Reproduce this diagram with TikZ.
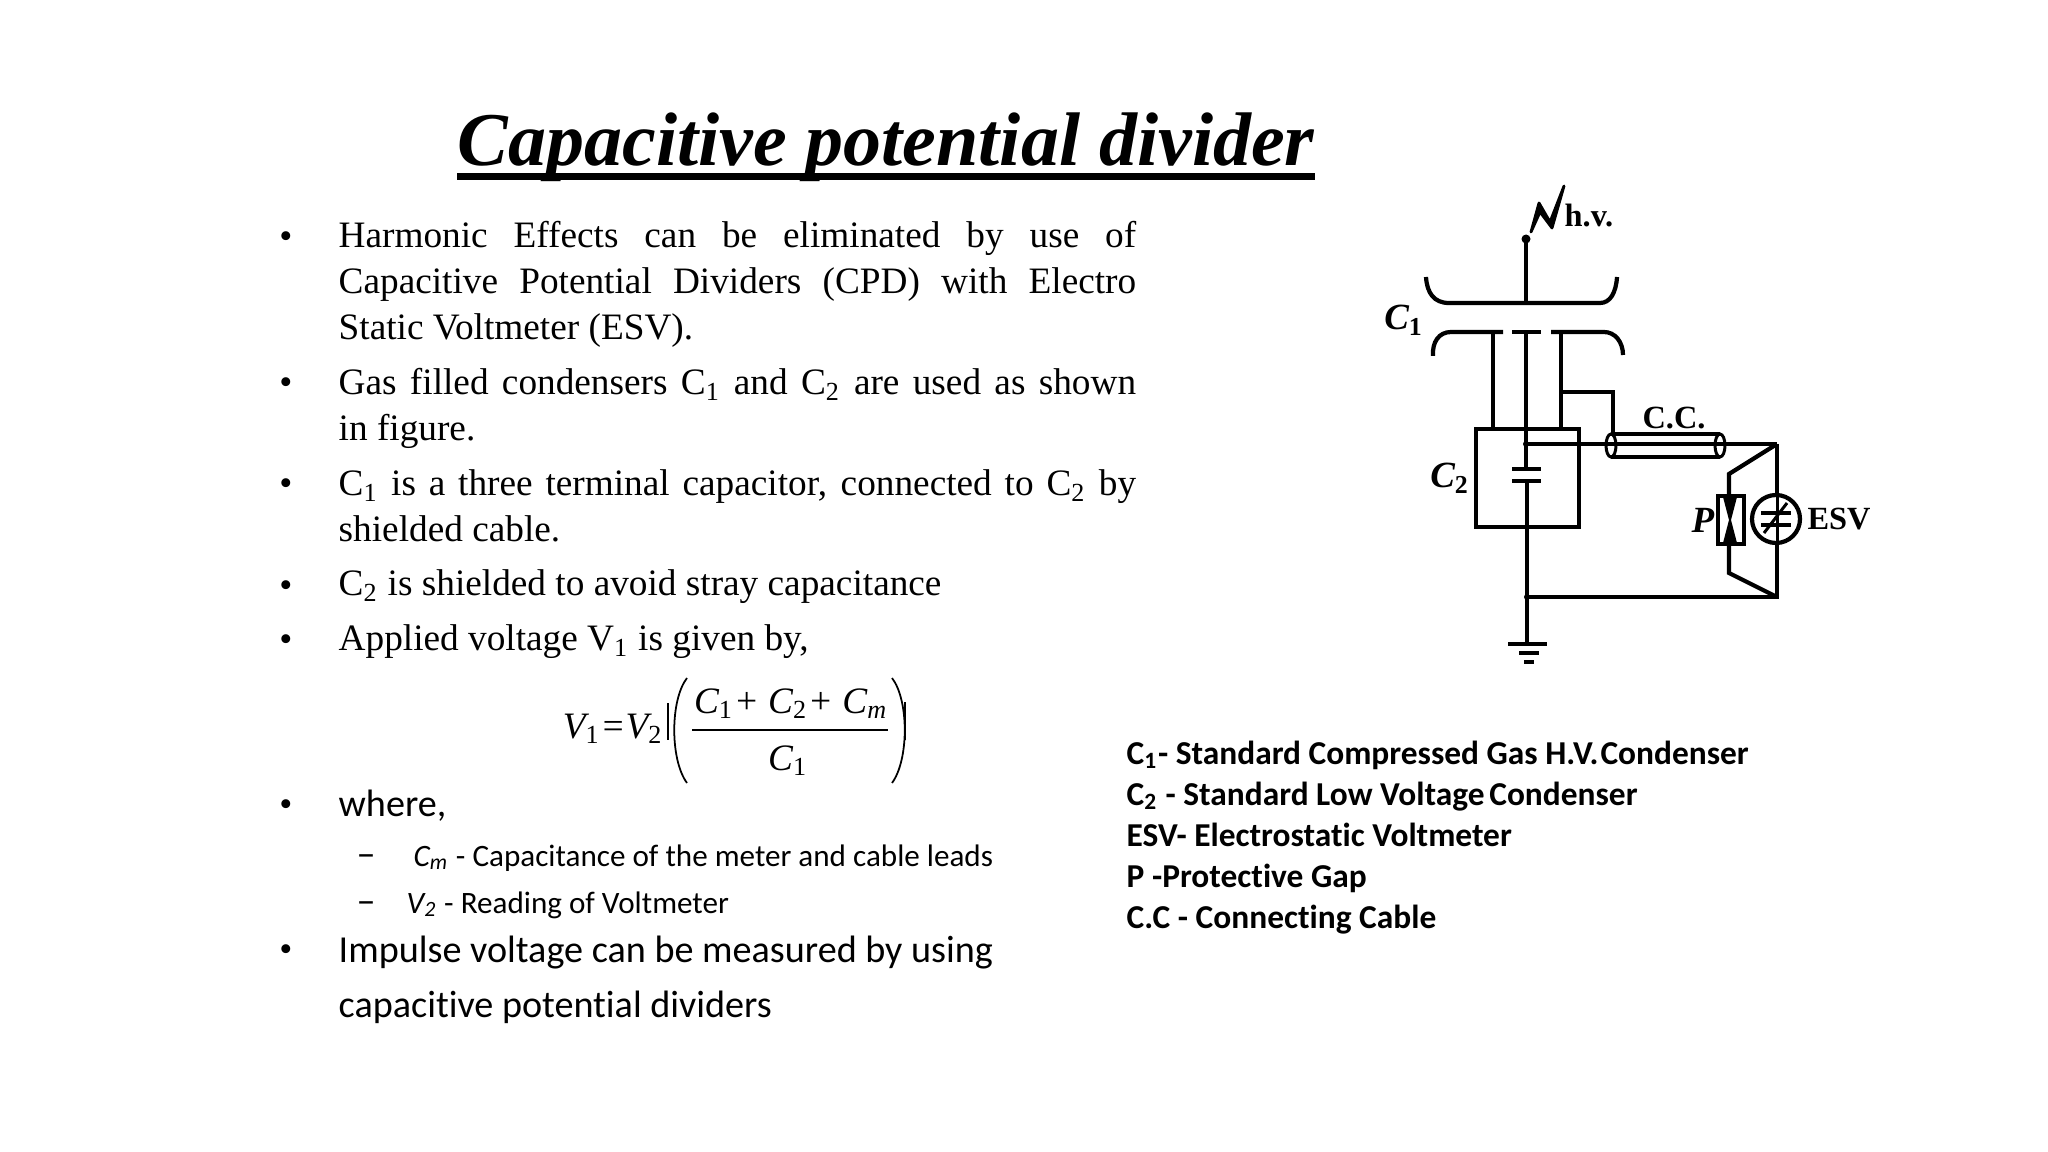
\documentclass[tikz,border=0pt]{standalone}
\usepackage{amsmath}
\usepackage{fontspec}
\setmainfont{Liberation Serif}
\newfontfamily\calfont[Ligatures=NoCommon]{Carlito}
\newcommand{\lowidx}[1]{$_{\text{#1}}$}
\begin{document}
\begin{tikzpicture}[x=0.01cm,y=0.01cm]
	\tikzstyle{every node}+=[inner sep=0pt]
	\tikzstyle{titletext}=[anchor=base west,font=\fontsize{21.6}{26}\selectfont\bfseries\itshape]
	\tikzstyle{bodytext}=[anchor=north west,text width=7.97cm,align=justify,font=\fontsize{10.6}{13}\selectfont]
	\tikzstyle{dotmark}=[anchor=base,font=\fontsize{10.6}{13}\selectfont]
	\tikzstyle{lowtext}=[anchor=base west,font=\fontsize{10.85}{13}\selectfont\calfont]
	\tikzstyle{subtext}=[anchor=base west,font=\fontsize{8.85}{11}\selectfont\calfont]
	\tikzstyle{legend}=[anchor=base west,font=\fontsize{9.5}{12}\selectfont\calfont\bfseries]
	\tikzstyle{eqtext}=[anchor=base,font=\fontsize{10.6}{12}\selectfont\itshape]
	\tikzstyle{partlabel}=[anchor=base,font=\fontsize{9.2}{11}\selectfont\bfseries]
	\tikzstyle{cclabelstyle}=[partlabel,font=\fontsize{10.5}{12}\selectfont\bfseries\itshape]
	\tikzstyle{wire}=[black,line width=1.2pt]
	\tikzstyle{thinwire}=[black,line width=0.85pt]
	\tikzstyle{eqline}=[black,line width=0.5pt]
	\useasboundingbox (0,0) rectangle (2048,-1152);
	\fill [white] (0,0) rectangle (2048,-1152);
	\node [titletext] (heading) at (457,-166) {Capacitive potential divider};
	\draw [black,line width=1.9pt] ([yshift=-3pt]heading.base west) -- ([yshift=-3pt]heading.base east);
	\node [dotmark] (dota) at (286,-249) {•};
	\node [bodytext] (harmonic) at (338,-221) {Harmonic Effects can be eliminated by use of\linebreak Capacitive Potential Dividers (CPD) with Electro\linebreak Static Voltmeter (ESV).};
	\node [dotmark] (dotb) at (286,-395) {•};
	\node [bodytext] (gas) at (338,-368) {Gas filled condensers C\lowidx{1} and C\lowidx{2} are used as shown\linebreak in figure.};
	\node [dotmark] (dotc) at (286,-496) {•};
	\node [bodytext] (three) at (338,-469) {C\lowidx{1} is a three terminal capacitor, connected to C\lowidx{2} by\linebreak shielded cable.};
	\node [dotmark] (dotd) at (286,-597) {•};
	\node [bodytext] (shield) at (338,-569) {C\lowidx{2} is shielded to avoid stray capacitance};
	\node [dotmark] (dote) at (286,-651) {•};
	\node [bodytext] (applied) at (338,-624) {Applied voltage V\lowidx{1} is given by,};
	\node [eqtext] (eqleft) at (613,-738) {V\lowidx{\textup{1}}=V\lowidx{\textup{2}}};
	\node [eqtext] (eqnum) at (791,-713) {C\lowidx{\textup{1}}+ C\lowidx{\textup{2}}+ C\lowidx{m}};
	\node [eqtext] (eqden) at (788,-770) {C\lowidx{\textup{1}}};
	\draw [eqline] (692,-730) -- (888,-730);
	\draw [eqline] (687,-678) .. controls (670,-700) and (670,-760) .. (687,-783);
	\draw [eqline] (892,-678) .. controls (909,-700) and (909,-760) .. (892,-783);
	\draw [eqline] (668,-703) -- (668,-740);
	\draw [eqline] (905,-702) -- (905,-740);
	\node [dotmark] (dotf) at (286,-816) {•};
	\node [lowtext] (where) at (338,-816) {where,};
	\node [lowtext] (dashm) at (356,-866) {–};
	\node [subtext] (meter) at (413,-866) {\textit{C\lowidx{m}} - Capacitance of the meter and cable leads};
	\node [lowtext] (dashv) at (356,-913) {–};
	\node [subtext] (reading) at (406,-913) {\textit{V\lowidx{2}} - Reading of Voltmeter};
	\node [dotmark] (dotg) at (286,-961) {•};
	\node [lowtext] (impulse) at (338,-962) {Impulse voltage can be measured by using};
	\node [lowtext] (impulseb) at (338,-1017) {capacitive potential dividers};
	\node [legend] (lega) at (1126,-764) {C\lowidx{1}- Standard Compressed Gas H.V. \kern-1.6pt Condenser};
	\node [legend] (legb) at (1126,-805) {C\lowidx{2} - Standard Low Voltage \kern-0.8pt Condenser};
	\node [legend] (legc) at (1126,-846) {ESV- Electrostatic Voltmeter};
	\node [legend] (legd) at (1126,-887) {P -Protective Gap};
	\node [legend] (lege) at (1126,-928) {C.C - Connecting Cable};
	\coordinate (hvtop) at (1526,-239);
	\coordinate (plateup) at (1526,-303);
	\coordinate (platelow) at (1526,-332);
	\coordinate (platel) at (1493,-332);
	\coordinate (plater) at (1561,-332);
	\coordinate (boxl) at (1493,-429);
	\coordinate (boxr) at (1561,-429);
	\coordinate (tap) at (1526,-444);
	\coordinate (capup) at (1526,-469);
	\coordinate (capdown) at (1527,-481);
	\coordinate (gndjoin) at (1527,-597);
	\coordinate (gndbar) at (1527,-644);
	\coordinate (corner) at (1777,-597);
	\coordinate (cornerup) at (1777,-444);
	\coordinate (branch) at (1561,-392);
	\coordinate (branchr) at (1613,-392);
	\coordinate (cablein) at (1613,-434);
	\coordinate (gapup) at (1729,-474);
	\coordinate (gapdown) at (1729,-573);
	\fill [black] (hvtop) circle (4.5);
	\fill [black] (tap) circle (3);
	\fill [black] (gndjoin) circle (3);
	\draw [wire] (hvtop) -- (plateup);
	\draw [wire] (1426,-277) .. controls (1427,-293) and (1434,-303) .. (1449,-303) -- (1600,-303) .. controls (1610,-303) and (1616,-293) .. (1617,-277);
	\draw [wire] (1433,-356) .. controls (1432,-342) and (1439,-332) .. (1451,-332) -- (1503,-332);
	\draw [wire] (1512,-332) -- (1541,-332);
	\draw [wire] (1551,-332) -- (1604,-332) .. controls (1615,-332) and (1623,-342) .. (1623,-355);
	\draw [wire] (platel) -- (boxl);
	\draw [wire] (platelow) -- (tap);
	\draw [wire] (plater) -- (boxr);
	\draw [wire] (branch) -- (branchr) -- (cablein);
	\draw [wire] (1476,-429) rectangle (1579,-527);
	\draw [wire] (tap) -- (1608,-444);
	\draw [wire] (1725,-444) -- (cornerup);
	\draw [wire] (1611,-434) -- (1720,-434) (1611,-457) -- (1720,-457);
	\draw [thinwire] (1611,-445.5) ellipse (5 and 11.5);
	\draw [thinwire] (1720,-445.5) ellipse (5 and 11.5);
	\draw [wire] (1608,-444) -- (1725,-444);
	\draw [wire] (tap) -- (capup);
	\draw [wire] (1512,-469) -- (1541,-469);
	\draw [wire] (1512,-481) -- (1541,-481);
	\draw [wire] (capdown) -- (gndjoin) -- (gndbar);
	\draw [wire] (1508,-644) -- (1547,-644);
	\draw [wire] (1519,-653) -- (1539,-653);
	\draw [wire] (1524,-662) -- (1534,-662);
	\draw [wire] (gndjoin) -- (corner) -- (1777,-542);
	\draw [wire] (cornerup) -- (1777,-496);
	\draw [wire] (1776,-519) circle (24);
	\draw [thinwire] (1777,-496) -- (1777,-542);
	\draw [wire] (1761,-513) -- (1791,-513);
	\draw [wire] (1761,-525) -- (1791,-525);
	\draw [thinwire] (1764,-533) -- (1787,-503);
	\draw [wire] (cornerup) -- (gapup) -- (1729,-496);
	\draw [wire] (1729,-544) -- (gapdown) -- (corner);
	\draw [wire] (1718,-496) rectangle (1744,-544);
	\fill [black] (1723,-497) -- (1737,-497) -- (1731,-520) -- (1737,-543) -- (1723,-543) -- (1729,-520) -- cycle;
	\filldraw [black,line width=0.8pt,line join=round] (1531,-232) -- (1539,-203) -- (1550,-222) -- (1564,-186) -- (1552,-228) -- (1540,-212) -- cycle;
	\node [partlabel] (hvlabel) at (1589,-227) {h.v.};
	\node [partlabel] (cclabel) at (1674,-429) {C.C.};
	\node [partlabel] (esvlabel) at (1839,-530) {ESV};
	\node [cclabelstyle] (plabel) at (1703,-533) {P};
	\node [cclabelstyle] (cone) at (1404,-330) {C\lowidx{\textup{1}}};
	\node [cclabelstyle] (ctwo) at (1450,-488) {C\lowidx{\textup{2}}};
\end{tikzpicture}
\end{document}
